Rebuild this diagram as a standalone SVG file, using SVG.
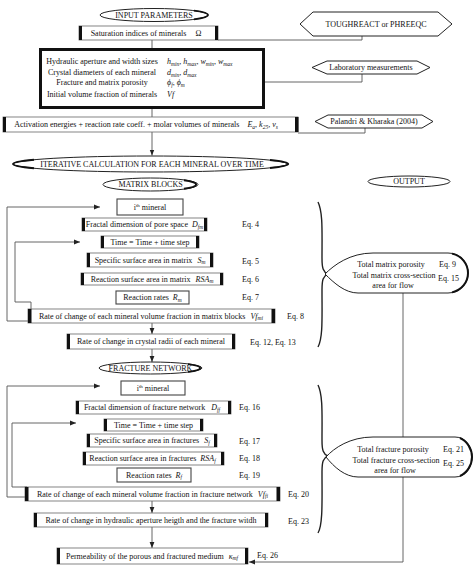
<svg xmlns="http://www.w3.org/2000/svg" width="474" height="571" viewBox="0 0 474 571">
<style>
.t{font-family:"Liberation Serif","Times New Roman",serif;font-size:8px;fill:#111}
.c{text-anchor:middle}
.box{fill:#fff;stroke:#666;stroke-width:0.8}
.thin{fill:#fff;stroke:#444;stroke-width:1.1}
.bar{fill:#111}
.conn{fill:none;stroke:#555;stroke-width:0.9}
.shape{fill:#fff;stroke:#222;stroke-width:1}
.bold{fill:none;stroke:#111;stroke-width:2}
.brace{fill:none;stroke:#222;stroke-width:1.4}
.i{font-style:italic}
.s{font-size:5.5px;font-style:italic}
</style>
<defs>
<marker id="ar" viewBox="0 0 10 10" refX="10" refY="5" markerWidth="6" markerHeight="6" markerUnits="userSpaceOnUse" orient="auto">
<path d="M0,1 L10,5 L0,9 Z" fill="#222"/>
</marker>
</defs>
<rect width="474" height="571" fill="#fff"/>

<g id="connectors">
<path class="conn" d="M218,40 H362 V36"/>
<path class="conn" d="M265,82 H362 V74"/>
<path class="conn" d="M298,133 H365 V128"/>
<path class="conn" d="M152,40 V48"/>
<path class="conn" d="M152,109 V117"/>
<path class="conn" d="M152,132 V155.5" marker-end="url(#ar)"/>
<path class="conn" d="M28,321 H7 V207 H100" marker-end="url(#ar)"/>
<path class="conn" d="M31,309 V302 H15 V242 H80" marker-end="url(#ar)"/>
<path class="conn" d="M152,323 V334" marker-end="url(#ar)"/>
<path class="conn" d="M152,349 V362" marker-end="url(#ar)"/>
<path class="conn" d="M25,497 H7 V386 H100" marker-end="url(#ar)"/>
<path class="conn" d="M27,487 H12 V423 H76" marker-end="url(#ar)"/>
<path class="conn" d="M152,501 V513" marker-end="url(#ar)"/>
<path class="conn" d="M152,527 V548" marker-end="url(#ar)"/>
<path class="conn" d="M403,293 V437"/>
<path class="conn" d="M403,477 V562 H249" marker-end="url(#ar)"/>
</g>

<g id="input-parameters">
<ellipse class="shape" cx="154" cy="15" rx="54" ry="6.5"/>
<path class="bold" d="M194,10.63 A54,6.5 0 0 1 194,19.37"/>
<text class="t c" x="154" y="17.8">INPUT PARAMETERS</text>
</g>

<g id="toughreact">
<path class="shape" d="M300,24 L313,12 H438 L452,24 L438,36 H313 Z"/>
<text class="t c" x="376" y="26.8">TOUGHREACT or PHREEQC</text>
</g>

<g id="saturation">
<rect class="box" x="79" y="26" width="139" height="14"/>
<rect class="bar" x="79" y="26" width="3" height="14"/>
<rect class="bar" x="215" y="26" width="3" height="14"/>
<text class="t c" x="146" y="35.8">Saturation indices of minerals<tspan dx="9">Ω</tspan></text>
</g>

<g id="input-box">
<rect x="40.5" y="49.5" width="223" height="58" fill="#fff" stroke="#111" stroke-width="3"/>
<text class="t c" x="102" y="64">Hydraulic aperture and width sizes</text>
<text class="t" x="167" y="64"><tspan class="i">h</tspan><tspan class="s" dy="1.5">min</tspan><tspan dy="-1.5">, </tspan><tspan class="i">h</tspan><tspan class="s" dy="1.5">max</tspan><tspan dy="-1.5">, </tspan><tspan class="i">w</tspan><tspan class="s" dy="1.5">min</tspan><tspan dy="-1.5">, </tspan><tspan class="i">w</tspan><tspan class="s" dy="1.5">max</tspan></text>
<text class="t c" x="102" y="75">Crystal diameters of each mineral</text>
<text class="t" x="167" y="75"><tspan class="i">d</tspan><tspan class="s" dy="1.5">min</tspan><tspan dy="-1.5">, </tspan><tspan class="i">d</tspan><tspan class="s" dy="1.5">max</tspan></text>
<text class="t c" x="102" y="85">Fracture and matrix porosity</text>
<text class="t" x="167" y="85"><tspan class="i">ϕ</tspan><tspan class="s" dy="1.5">f</tspan><tspan dy="-1.5">, </tspan><tspan class="i">ϕ</tspan><tspan class="s" dy="1.5">m</tspan></text>
<text class="t c" x="102" y="97">Initial volume fraction of minerals</text>
<text class="t i" x="167" y="97">Vf</text>
</g>

<g id="laboratory">
<path class="shape" d="M312,67.5 L327,61 H417 L430,67.5 L417,74 H327 Z"/>
<text class="t c" x="371" y="70.3">Laboratory measurements</text>
</g>

<g id="activation">
<rect class="box" x="3" y="117" width="295" height="15"/>
<rect class="bar" x="3" y="117" width="3" height="15"/>
<rect class="bar" x="295" y="117" width="3.5" height="15"/>
<text class="t c" x="146" y="127.3">Activation energies + reaction rate coeff. + molar volumes of minerals<tspan class="i" dx="8">E</tspan><tspan class="s" dy="1.5">a</tspan><tspan dy="-1.5">, </tspan><tspan class="i">k</tspan><tspan class="s" dy="1.5">25</tspan><tspan dy="-1.5">, </tspan><tspan class="i">v</tspan><tspan class="s" dy="1.5">s</tspan></text>
</g>

<g id="palandri">
<path class="shape" d="M315,121.5 L328,115 H422 L433,121.5 L422,128 H328 Z"/>
<text class="t c" x="374" y="124.3">Palandri &amp; Kharaka (2004)</text>
</g>

<g id="iterative">
<ellipse class="shape" cx="150" cy="164" rx="137" ry="8"/>
<path class="bold" d="M34,159.75 A137,8 0 0 0 34,168.25"/>
<path class="bold" d="M270,160.02 A137,8 0 0 1 270,167.98"/>
<text class="t c" x="152" y="166.8">ITERATIVE CALCULATION FOR EACH MINERAL  OVER TIME</text>
</g>

<g id="matrix-blocks">
<ellipse class="shape" cx="150.5" cy="184.5" rx="47.5" ry="6.5"/>
<path class="bold" d="M184,180.15 A47.5,6.5 0 0 1 184,188.85"/>
<text class="t c" x="150.5" y="187.3">MATRIX BLOCKS</text>
</g>

<g id="output">
<ellipse class="shape" cx="409" cy="181.5" rx="41" ry="5.5"/>
<text class="t c" x="409" y="184.3">OUTPUT</text>
</g>

<g id="m-ith">
<rect class="thin" x="117" y="199" width="66" height="16"/>
<text class="t c" x="150" y="209.8">i<tspan font-size="5" dy="-3">th</tspan><tspan dy="3"> mineral</tspan></text>
</g>

<g id="m-fractal">
<rect class="box" x="82" y="218" width="125" height="13"/>
<rect class="bar" x="82" y="218" width="3" height="13"/>
<rect class="bar" x="204" y="218" width="3" height="13"/>
<text class="t c" x="144.5" y="227.3">Fractal dimension of pore space<tspan class="i" dx="4">D</tspan><tspan class="s" dy="1.5">fm</tspan></text>
<text class="t" x="242" y="227">Eq. 4</text>
</g>

<g id="m-time">
<rect class="box" x="101" y="236" width="98" height="12"/>
<rect class="bar" x="101" y="236" width="3" height="12"/>
<rect class="bar" x="196" y="236" width="3" height="12"/>
<text class="t c" x="150" y="244.8">Time = Time + time step</text>
</g>

<g id="m-specific">
<rect class="box" x="87" y="253" width="126" height="14"/>
<rect class="bar" x="87" y="253" width="3" height="14"/>
<rect class="bar" x="210" y="253" width="3" height="14"/>
<text class="t c" x="150" y="262.8">Specific surface area in matrix<tspan class="i" dx="5">S</tspan><tspan class="s" dy="1.5">m</tspan></text>
<text class="t" x="242" y="264">Eq. 5</text>
</g>

<g id="m-rsa">
<rect class="box" x="81" y="273" width="142" height="12"/>
<rect class="bar" x="81" y="273" width="3" height="12"/>
<rect class="bar" x="220" y="273" width="3" height="12"/>
<text class="t c" x="152" y="281.8">Reaction surface area in matrix<tspan class="i" dx="5">RSA</tspan><tspan class="s" dy="1.5">m</tspan></text>
<text class="t" x="242" y="282">Eq. 6</text>
</g>

<g id="m-rates">
<rect class="thin" x="116" y="291" width="73" height="13"/>
<text class="t c" x="152.5" y="300.3">Reaction rates<tspan class="i" dx="4">R</tspan><tspan class="s" dy="1.5">m</tspan></text>
<text class="t" x="242" y="300">Eq. 7</text>
</g>

<g id="m-rate-change">
<rect class="box" x="28" y="309" width="247" height="14"/>
<rect class="bar" x="28" y="309" width="3.5" height="14"/>
<rect class="bar" x="271.5" y="309" width="3.5" height="14"/>
<text class="t c" x="151" y="318.8">Rate of change of each mineral volume fraction in matrix blocks<tspan class="i" dx="5">Vf</tspan><tspan class="s" dy="1.5">mi</tspan></text>
<text class="t" x="287" y="319">Eq. 8</text>
</g>

<g id="m-crystal">
<rect class="box" x="67" y="334" width="168" height="15"/>
<rect class="bar" x="67" y="334" width="3" height="15"/>
<rect class="bar" x="232" y="334" width="3" height="15"/>
<text class="t c" x="151" y="344.3">Rate of change in crystal radii of each mineral</text>
<text class="t" x="250" y="344.5">Eq. 12, Eq. 13</text>
</g>

<g id="matrix-brace">
<path class="brace" d="M318,202 C323,212 322,232 322,258 C322,268 323,272 328,274 C323,276 322,280 322,290 C322,318 323,338 318,347"/>
</g>

<g id="matrix-output">
<path class="shape" d="M373,253 H448 C461,253 468,263 468,273 C468,283 461,293 448,293 H358 C345,293 334,283 325,274 C334,265 350,253 373,253 Z"/>
<path class="bold" d="M452,253.6 C462,256 468,264 468,273 C468,282 462,290 452,292.4"/>
<text class="t c" x="391" y="266.5">Total matrix porosity</text>
<text class="t" x="439" y="266.5">Eq. 9</text>
<text class="t c" x="394" y="277.5">Total matrix cross-section</text>
<text class="t" x="438" y="281">Eq. 15</text>
<text class="t c" x="393" y="288">area for flow</text>
</g>

<g id="fracture-network">
<ellipse class="shape" cx="150.5" cy="368" rx="51.5" ry="6"/>
<path class="bold" d="M188,364.12 A51.5,6 0 0 1 188,371.88"/>
<text class="t c" x="150.5" y="370.8">FRACTURE NETWORK</text>
</g>

<g id="f-ith">
<rect class="thin" x="121" y="381" width="64" height="14"/>
<text class="t c" x="153" y="390.8">i<tspan font-size="5" dy="-3">th</tspan><tspan dy="3"> mineral</tspan></text>
</g>

<g id="f-fractal">
<rect class="box" x="76" y="401" width="155" height="13"/>
<rect class="bar" x="76" y="401" width="3" height="13"/>
<rect class="bar" x="228" y="401" width="3" height="13"/>
<text class="t c" x="152" y="410.3">Fractal dimension of fracture network<tspan class="i" dx="6">D</tspan><tspan class="s" dy="1.5">ff</tspan></text>
<text class="t" x="239" y="409.5">Eq. 16</text>
</g>

<g id="f-time">
<rect class="box" x="104" y="419" width="99" height="12"/>
<rect class="bar" x="104" y="419" width="3" height="12"/>
<rect class="bar" x="200" y="419" width="3" height="12"/>
<text class="t c" x="153.5" y="427.8">Time = Time + time step</text>
</g>

<g id="f-specific">
<rect class="box" x="87" y="434" width="130" height="13"/>
<rect class="bar" x="87" y="434" width="3" height="13"/>
<rect class="bar" x="214" y="434" width="3" height="13"/>
<text class="t c" x="152" y="443.3">Specific surface area in fractures<tspan class="i" dx="5">S</tspan><tspan class="s" dy="1.5">f</tspan></text>
<text class="t" x="239" y="444">Eq. 17</text>
</g>

<g id="f-rsa">
<rect class="box" x="83" y="452" width="141" height="13"/>
<rect class="bar" x="83" y="452" width="3" height="13"/>
<rect class="bar" x="221" y="452" width="3" height="13"/>
<text class="t c" x="152.5" y="461.3">Reaction surface area in fractures<tspan class="i" dx="4">RSA</tspan><tspan class="s" dy="1.5">f</tspan></text>
<text class="t" x="239" y="461">Eq. 18</text>
</g>

<g id="f-rates">
<rect class="thin" x="117" y="468" width="74" height="14"/>
<text class="t c" x="154" y="477.8">Reaction rates<tspan class="i" dx="4">R</tspan><tspan class="s" dy="1.5">f</tspan></text>
<text class="t" x="239" y="478">Eq. 19</text>
</g>

<g id="f-rate-change">
<rect class="box" x="25" y="487" width="255" height="14"/>
<rect class="bar" x="25" y="487" width="3.5" height="14"/>
<rect class="bar" x="276.5" y="487" width="3.5" height="14"/>
<text class="t c" x="152.5" y="496.8">Rate of change of each mineral volume fraction in fracture network<tspan class="i" dx="5">Vf</tspan><tspan class="s" dy="1.5">fi</tspan></text>
<text class="t" x="288" y="497">Eq. 20</text>
</g>

<g id="f-hydraulic">
<rect class="box" x="34" y="513" width="234" height="14"/>
<rect class="bar" x="34" y="513" width="3" height="14"/>
<rect class="bar" x="265" y="513" width="3" height="14"/>
<text class="t c" x="151" y="522.8">Rate of change in hydraulic aperture heigth and the fracture witdh</text>
<text class="t" x="288" y="523.5">Eq. 23</text>
</g>

<g id="fracture-brace">
<path class="brace" d="M318,385 C323,395 322,415 322,440 C322,450 323,454 328,456 C323,458 322,462 322,472 C322,500 323,525 318,533"/>
</g>

<g id="fracture-output">
<path class="shape" d="M373,437 H455 C466,437 472,447 472,457 C472,467 466,477 455,477 H358 C345,477 334,467 326,457 C334,448 350,437 373,437 Z"/>
<path class="bold" d="M460,438 C467,441 472,449 472,457 C472,465 467,473 460,476"/>
<text class="t c" x="393" y="451.5">Total fracture porosity</text>
<text class="t" x="443" y="451.5">Eq. 21</text>
<text class="t c" x="396" y="463">Total fracture cross-section</text>
<text class="t" x="443" y="466">Eq. 25</text>
<text class="t c" x="395" y="473">area for flow</text>
</g>

<g id="permeability">
<rect class="box" x="57" y="548" width="191" height="16"/>
<rect class="bar" x="57" y="548" width="3" height="16"/>
<rect class="bar" x="245" y="548" width="3" height="16"/>
<text class="t c" x="152" y="558.8">Permeability of the porous and fractured medium<tspan class="i" dx="5">κ</tspan><tspan class="s" dy="1.5">mf</tspan></text>
<text class="t" x="257" y="558">Eq. 26</text>
</g>
</svg>
